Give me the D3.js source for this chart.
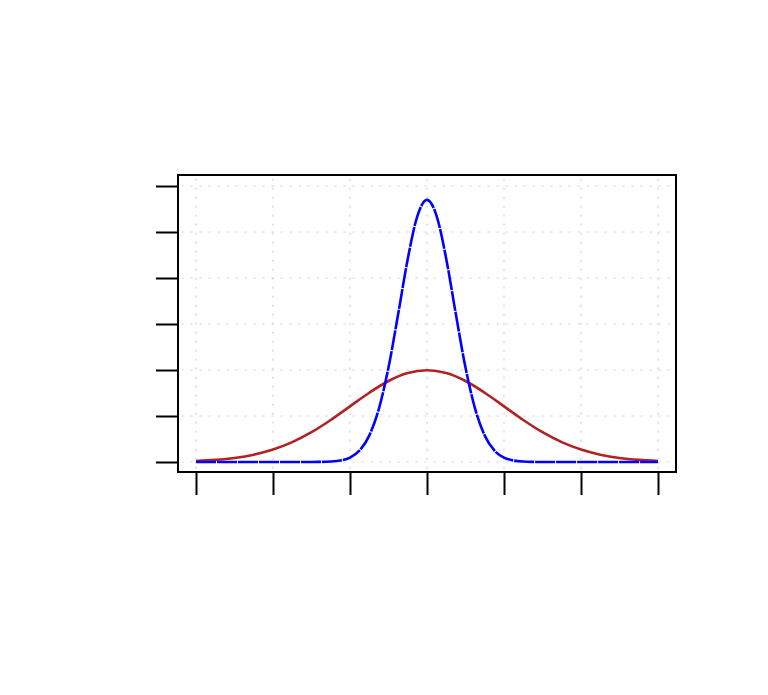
<!DOCTYPE html>
<html>
<head>
<meta charset="utf-8">
<script src="https://cdn.jsdelivr.net/npm/d3@7"></script>
<style>
  html, body { margin: 0; padding: 0; background: #fff; }
  svg { display: block; }
</style>
</head>
<body>
<div id="chart"></div>
<script>
// values
var xTicks = [-3, -2, -1, 0, 1, 2, 3];
var yTicks = [0, 0.2, 0.4, 0.6, 0.8, 1.0, 1.2];

var redX = [-3, -2.75, -2.5, -2.25, -2, -1.75, -1.5, -1.25, -1, -0.75, -0.5, -0.25, 0,
            0.25, 0.5, 0.75, 1, 1.25, 1.5, 1.75, 2, 2.25, 2.5, 2.75, 3];
var redY = [0.0044, 0.0091, 0.0175, 0.0317, 0.054, 0.0863, 0.1295, 0.1826, 0.242, 0.3011, 0.3521, 0.3867, 0.3989,
            0.3867, 0.3521, 0.3011, 0.242, 0.1826, 0.1295, 0.0863, 0.054, 0.0317, 0.0175, 0.0091, 0.0044];

var blueX = [-3, -2.5, -2, -1.75, -1.5, -1.375, -1.25, -1.125, -1, -0.875, -0.75, -0.625, -0.5, -0.375, -0.25, -0.125, 0,
             0.125, 0.25, 0.375, 0.5, 0.625, 0.75, 0.875, 1, 1.125, 1.25, 1.375, 1.5, 1.75, 2, 2.5, 3];
var blueY = [0, 0, 0, 0, 0.0001, 0.0005, 0.0019, 0.0065, 0.0192, 0.0501, 0.1148, 0.2314, 0.4108, 0.6421, 0.8831, 1.0694, 1.1398,
             1.0694, 0.8831, 0.6421, 0.4108, 0.2314, 0.1148, 0.0501, 0.0192, 0.0065, 0.0019, 0.0005, 0.0001, 0, 0, 0, 0];

function drawChart() {
    var w = 768, h = 695;
    var svg = d3.select("#chart").append("svg").attr("width", w).attr("height", h);

    var box = {left: 178, right: 676, top: 175, bottom: 472};

    var x = d3.scaleLinear().domain([-3, 3]).range([196, 658]);
    var y = d3.scaleLinear().domain([0, 1.2]).range([462, 186]);

    // dotted grid
    var grid = svg.append("g").attr("stroke", "#cfcfcf").attr("stroke-width", 1.2)
                  .attr("stroke-dasharray", "1.2,7.8").attr("stroke-linecap", "round");
    grid.selectAll("line.gx").data(xTicks).enter().append("line")
        .attr("x1", function(d) { return x(d); }).attr("x2", function(d) { return x(d); })
        .attr("y1", box.top + 4).attr("y2", box.bottom);
    grid.selectAll("line.gy").data(yTicks).enter().append("line")
        .attr("x1", box.left + 4).attr("x2", box.right)
        .attr("y1", function(d) { return y(d); }).attr("y2", function(d) { return y(d); });

    // curves
    var line = d3.line().curve(d3.curveMonotoneX);

    svg.append("path")
        .attr("d", line(redX.map(function(v, i) { return [x(v), y(redY[i])]; })))
        .attr("fill", "none").attr("stroke", "#B22222").attr("stroke-width", 2.6);

    svg.append("path")
        .attr("d", line(blueX.map(function(v, i) { return [x(v), y(blueY[i])]; })))
        .attr("fill", "none").attr("stroke", "#0000FF").attr("stroke-width", 2.6)
        .attr("stroke-dasharray", "20,1");

    // axes, no labels
    var yAxis = svg.append("g").attr("transform", "translate(" + box.left + ",0)")
        .call(d3.axisLeft(y).tickValues(yTicks).tickSize(22).tickFormat(""));
    var xAxis = svg.append("g").attr("transform", "translate(0," + box.bottom + ")")
        .call(d3.axisBottom(x).tickValues(xTicks).tickSize(23).tickFormat(""));
    [yAxis, xAxis].forEach(function(a) {
        a.select(".domain").remove();
        a.selectAll(".tick line").attr("stroke", "#000").attr("stroke-width", 2);
    });

    // frame
    svg.append("rect")
        .attr("x", box.left).attr("y", box.top)
        .attr("width", box.right - box.left).attr("height", box.bottom - box.top)
        .attr("fill", "none").attr("stroke", "#000").attr("stroke-width", 2);
}

drawChart();
</script>
</body>
</html>
